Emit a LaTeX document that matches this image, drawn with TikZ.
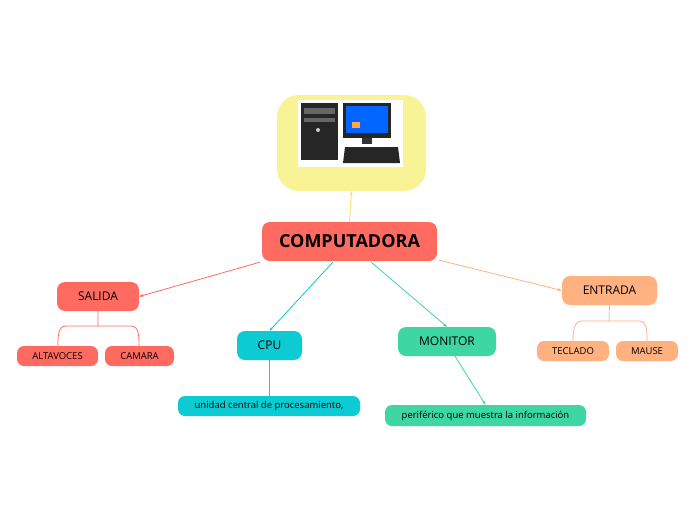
\documentclass[tikz,border=0pt]{standalone}
\usepackage{fontspec}
\setmainfont{Open Sans}
\usetikzlibrary{arrows.meta}
\definecolor{cred}{HTML}{FF6B61}
\definecolor{ccyan}{HTML}{0CCBD3}
\definecolor{cgreen}{HTML}{3ED6A2}
\definecolor{corange}{HTML}{FFB27F}
\definecolor{cyel}{HTML}{F8F394}
\tikzset{
 box/.style={rounded corners=8pt,inner sep=0pt,font=\fontsize{12}{14}\selectfont},
 sub/.style={rounded corners=7pt,inner sep=0pt,font=\fontsize{9.5}{11}\selectfont},
 con/.style={-{Stealth[length=4pt,width=3pt]},line width=0.8pt},
}
\begin{document}
\begin{tikzpicture}[x=1pt,y=-1pt]
\useasboundingbox (0,0) rectangle (696,520);
\fill[white] (0,0) rectangle (696,520);
% image box
\node[fill=cyel,rounded corners=22pt,minimum width=149pt,minimum height=96pt] (img) at (351.5,143) {};
\fill[white] (298,100) rectangle (403,167);
\fill[black!85] (301,103) rectangle (338,160);
\fill[black!60] (304,108) rectangle (335,114);
\fill[black!60] (304,118) rectangle (335,122);
\fill[gray!40] (318,130) circle (2pt);
\fill[black!85] (343,103) rectangle (391,138);
\fill[blue!60!cyan] (346,106) rectangle (388,133);
\fill[orange!70] (352,122) rectangle (360,128);
\fill[black!80] (362,138) rectangle (372,144);
\fill[black!85] (345,147) -- (398,147) -- (400,163) -- (343,163) -- cycle;
% main
\node[box,fill=cred,minimum width=175pt,minimum height=39pt,font=\bfseries\fontsize{18}{20}\selectfont] (main) at (349.5,241.5) {COMPUTADORA};
\node[box,fill=cred,minimum width=82pt,minimum height=29pt] (sal) at (98,296.5) {SALIDA};
\node[sub,fill=cred,minimum width=81pt,minimum height=20pt] (alt) at (57.5,356) {ALTAVOCES};
\node[sub,fill=cred,minimum width=69pt,minimum height=20pt] (cam) at (139.5,356) {CAMARA};
\node[box,fill=ccyan,minimum width=65pt,minimum height=29pt] (cpu) at (269.5,345.5) {CPU};
\node[sub,fill=ccyan,minimum width=182pt,minimum height=20pt] (uc) at (269,406) {unidad central de procesamiento,};
\node[box,fill=cgreen,minimum width=98pt,minimum height=29pt] (mon) at (447,341.5) {MONITOR};
\node[sub,fill=cgreen,minimum width=201pt,minimum height=21pt] (per) at (485.5,415.5) {periférico que muestra la información};
\node[box,fill=corange,minimum width=95pt,minimum height=29pt] (ent) at (609.5,290.5) {ENTRADA};
\node[sub,fill=corange,minimum width=72pt,minimum height=20pt] (tec) at (573,351) {TECLADO};
\node[sub,fill=corange,minimum width=62pt,minimum height=20pt] (mau) at (647,351) {MAUSE};
% connectors
\draw[con,cyel!80!orange] (main.north) -- (img.south);
\draw[con,cred] (main.south west)++(-2,1) -- (sal.east);
\draw[con,ccyan] (333,262) -- (cpu.north);
\draw[con,cgreen] (371,262) -- (mon.north);
\draw[con,corange] (main.south east)++(2,-1) -- (ent.west);
\draw[con,cgreen] (mon.south) ++(8,0) -- (per.north);
\draw[ccyan,line width=0.8pt] (cpu.south) -- (uc.north -| cpu.south);
\draw[cred,line width=0.8pt] (sal.south) -- (98,326) -- (66,326) to[out=180,in=90] (alt.north -| 58,0) ;
\draw[cred,line width=0.8pt] (98,326) -- (131,326) to[out=0,in=90] (cam.north -| 139,0);
\draw[corange,line width=0.8pt] (ent.south) -- (609,321) -- (582,321) to[out=180,in=90] (tec.north -| 573,0);
\draw[corange,line width=0.8pt] (609,321) -- (639,321) to[out=0,in=90] (mau.north -| 647,0);
\end{tikzpicture}
\end{document}
